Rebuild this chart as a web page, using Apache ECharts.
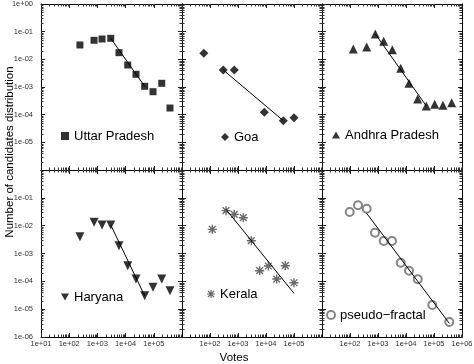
<!DOCTYPE html>
<html><head><meta charset="utf-8">
<script src="https://cdn.jsdelivr.net/npm/echarts@6/dist/echarts.min.js"></script>
<style>html,body{margin:0;padding:0;background:#fff}#c{width:474px;height:364px}</style>
</head><body><div id="c"></div>
<script>
const FONT = "'Liberation Sans', Arial, Helvetica, sans-serif";

// ---- data (votes, distribution) ----
const upX = [240, 760, 1460, 2970, 5830, 11900, 23400, 47500, 93800, 191000, 375000];
const upY = [0.033, 0.0488, 0.0543, 0.0576, 0.0174, 0.00624, 0.00288, 0.00106, 0.000676, 0.00136, 0.000174];
const upFitX = [2970, 47500];
const upFitY = [0.0576, 0.00106];

const goaX = [60, 298, 738, 8690, 41500, 100000];
const goaY = [0.0165, 0.00412, 0.00412, 0.000122, 0.0000606, 0.0000778];
const goaFitX = [298, 41500];
const goaFitY = [0.00412, 0.0000606];

const apX = [131, 394, 802, 1600, 3240, 6470, 12800, 26200, 53100, 106000, 209000, 428000];
const apY = [0.0236, 0.0279, 0.0824, 0.0449, 0.0223, 0.00474, 0.00136, 0.000369, 0.000206, 0.000237, 0.000218, 0.000271];
const apFitX = [802, 53100];
const apFitY = [0.0824, 0.000206];

const harX = [240, 760, 1460, 2970, 5830, 11900, 23400, 47500, 93800, 191000, 375000];
const harY = [0.00401, 0.0132, 0.0106, 0.0106, 0.00191, 0.000364, 0.000121, 0.0000304, 0.000061, 0.000121, 0.000046];
const harFitX = [2970, 47500];
const harFitY = [0.0106, 0.0000304];

const kerX = [121, 372, 738, 1545, 2985, 5957, 12080, 24100, 48870, 100000];
const kerY = [0.0074, 0.0345, 0.0256, 0.0193, 0.00288, 0.000241, 0.000355, 0.000121, 0.000364, 0.000089];
const kerFitX = [372, 100000];
const kerFitY = [0.0387, 0.000037];

const pfX = [97.5, 193, 394, 782, 1600, 3162, 6471, 12800, 26180, 86900, 351600];
const pfY = [0.031, 0.0539, 0.0407, 0.00558, 0.00281, 0.00281, 0.000467, 0.000241, 0.000118, 0.0000141, 0.00000345];
const pfFitX = [394, 351600];
const pfFitY = [0.0277, 0.0000031];

const names = ['Uttar Pradesh', 'Goa', 'Andhra Pradesh', 'Haryana', 'Kerala', 'pseudo\u2212fractal'];

const xTickLabels = ['1e+01', '1e+02', '1e+03', '1e+04', '1e+05', '1e+06'];
const yTickLabels = ['1e-06', '1e-05', '1e-04', '1e-03', '1e-02', '1e-01', '1e+00'];

// ---- layout / styles ----
const ASTER = 'path://M0 8.5L20 8.5L20 11.5L0 11.5Z M8.5 0L11.5 0L11.5 20L8.5 20Z ' +
  'M3.56 1.44L18.56 16.44L16.44 18.56L1.44 3.56Z M16.44 1.44L18.56 3.56L3.56 18.56L1.44 16.44Z';
const INVTRI = 'path://M0 0L20 0L10 17Z';
const TRI = 'path://M10 0L20 17L0 17Z';

const panels = [
  {xs: upX, ys: upY, fx: upFitX, fy: upFitY, symbol: 'rect', size: 7, color: '#000', leg: [61, 129]},
  {xs: goaX, ys: goaY, fx: goaFitX, fy: goaFitY, symbol: 'diamond', size: 9, color: '#000', leg: [221, 130]},
  {xs: apX, ys: apY, fx: apFitX, fy: apFitY, symbol: TRI, size: 9, color: '#000', leg: [332, 128]},
  {xs: harX, ys: harY, fx: harFitX, fy: harFitY, symbol: INVTRI, size: 9, color: '#000', leg: [61, 290]},
  {xs: kerX, ys: kerY, fx: kerFitX, fy: kerFitY, symbol: ASTER, size: 9, color: '#444', leg: [207, 287]},
  {xs: pfX, ys: pfY, fx: pfFitX, fy: pfFitY, symbol: 'emptyCircle', size: 8, color: '#666', leg: [326, 308]}
];
const gridRects = [[41, 4, 141, 166], [182, 4, 140, 166], [322, 4, 140, 166],
                   [41, 170, 141, 167], [182, 170, 140, 167], [322, 170, 140, 167]];

// minor tick positions (2..9 per decade)
const minorX = [], minorY = [];
for (let e = 1; e < 6; e++) for (let m = 2; m <= 9; m++) minorX.push(m * Math.pow(10, e));
for (let e = -6; e < 0; e++) for (let m = 2; m <= 9; m++) minorY.push(m * Math.pow(10, e));
const minorData = minorX.map(v => [v, 1e-6, 0]).concat(minorY.map(v => [10, v, 1]));

const xFmt = v => xTickLabels[Math.round(Math.log10(v)) - 1];
const yFmt = v => yTickLabels[Math.round(Math.log10(v)) + 6];

const grid = [], xAxis = [], yAxis = [], series = [], legend = [];
const tickStyle = {color: '#222', width: 1};
const lineStyle = {color: '#000', width: 1};

gridRects.forEach((r, g) => {
  const row = g < 3 ? 0 : 1, col = g % 3;
  grid.push({left: r[0], top: r[1], width: r[2], height: r[3], containLabel: false, outerBoundsMode: 'none'});
  const xBase = {type: 'log', logBase: 10, min: 10, max: 1e6, gridIndex: g, splitLine: {show: false},
    axisLine: {show: true, onZero: false, lineStyle}, axisTick: {show: true, inside: true, length: 4, lineStyle: tickStyle}};
  xAxis.push(Object.assign({}, xBase, {position: 'bottom',
    axisLabel: {show: row === 1, formatter: xFmt, fontSize: 7.5, color: '#333', fontFamily: FONT, margin: 3,
      showMinLabel: col === 0, showMaxLabel: col === 2}}));
  xAxis.push(Object.assign({}, xBase, {position: 'top', axisLabel: {show: false}}));
  const yBase = {type: 'log', logBase: 10, min: 1e-6, max: 1, gridIndex: g, splitLine: {show: false},
    axisLine: {show: true, onZero: false, lineStyle}, axisTick: {show: true, inside: true, length: 4, lineStyle: tickStyle}};
  yAxis.push(Object.assign({}, yBase, {position: 'left',
    axisLabel: {show: col === 0, formatter: yFmt, fontSize: 7.5, color: '#333', fontFamily: FONT, margin: 8,
      showMinLabel: row === 1, showMaxLabel: row === 0}}));
  yAxis.push(Object.assign({}, yBase, {position: 'right', axisLabel: {show: false}}));

  const p = panels[g];
  series.push({
    type: 'custom', name: 'minor' + g, xAxisIndex: 2 * g, yAxisIndex: 2 * g, silent: true, clip: false,
    data: minorData, z: 1,
    renderItem: (params, api) => {
      const cs = params.coordSys;
      const pt = api.coord([api.value(0), api.value(1)]);
      const L = 2.5, st = {stroke: '#333', lineWidth: 1};
      let ch;
      if (api.value(2) === 0) {
        const x = Math.round(pt[0]) + 0.5, yb = cs.y + cs.height, yt = cs.y;
        ch = [{type: 'line', shape: {x1: x, y1: yb, x2: x, y2: yb - L}, style: st},
              {type: 'line', shape: {x1: x, y1: yt, x2: x, y2: yt + L}, style: st}];
      } else {
        const y = Math.round(pt[1]) + 0.5, xl = cs.x, xr = cs.x + cs.width;
        ch = [{type: 'line', shape: {x1: xl, y1: y, x2: xl + L, y2: y}, style: st},
              {type: 'line', shape: {x1: xr, y1: y, x2: xr - L, y2: y}, style: st}];
      }
      return {type: 'group', children: ch};
    }
  });
  series.push({
    type: 'scatter', name: names[g], xAxisIndex: 2 * g, yAxisIndex: 2 * g,
    data: p.xs.map((x, i) => [x, p.ys[i]]), symbol: p.symbol, symbolSize: p.size,
    itemStyle: p.symbol === 'emptyCircle' ? {color: p.color, borderWidth: 1.2} : {color: p.color},
    z: 3
  });
  series.push({
    type: 'line', name: 'fit' + g, xAxisIndex: 2 * g, yAxisIndex: 2 * g,
    data: p.fx.map((x, i) => [x, p.fy[i]]), showSymbol: false, symbol: 'none',
    lineStyle: {color: '#000', width: 1}, z: 4
  });
  legend.push({
    data: [{name: names[g], icon: p.symbol}], left: p.leg[0], top: p.leg[1], padding: 0,
    itemWidth: 8, itemHeight: 8, selectedMode: false,
    textStyle: {fontSize: 13, color: '#000', fontFamily: FONT, lineHeight: 14}
  });
});

const chart = echarts.init(document.getElementById('c'), null, {renderer: 'canvas'});
chart.setOption({
  animation: false,
  backgroundColor: '#fff',
  grid, xAxis, yAxis, series, legend,
  graphic: [
    {type: 'text', x: 10, y: 152, rotation: Math.PI / 2,
     style: {text: 'Number of candidates distribution', fontSize: 11.5, fontFamily: FONT, fill: '#000',
             align: 'center', verticalAlign: 'middle'}},
    {type: 'text', x: 234, y: 358,
     style: {text: 'Votes', fontSize: 11.5, fontFamily: FONT, fill: '#000', align: 'center', verticalAlign: 'middle'}}
  ]
});
</script>
</body></html>
